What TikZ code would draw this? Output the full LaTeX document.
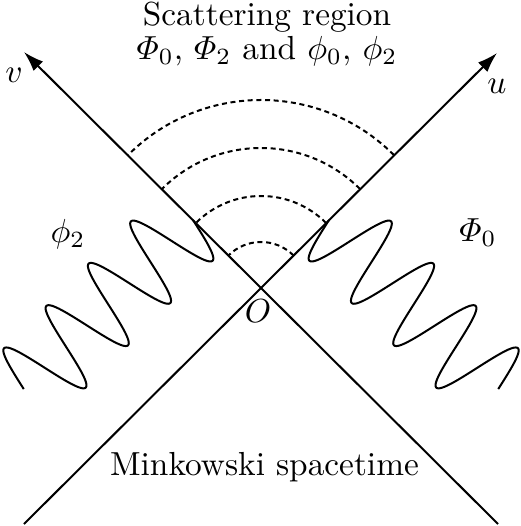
\documentclass[tikz,border=0pt]{standalone}
\usepackage{amsmath}
\usetikzlibrary{arrows.meta}
\begin{document}
\begin{tikzpicture}[x=0.3pt,y=0.3pt,
  axisline/.style={line width=0.6pt,-{Latex[length=6pt,width=4pt]}},
  wave/.style={line width=0.6pt},
  front/.style={line width=0.6pt,dash pattern=on 1.5pt off 1.1pt},
  lab/.style={inner sep=0pt,anchor=base}]
\useasboundingbox (-261,-238) rectangle (259,288);
\coordinate (O) at (0,0);
\coordinate (A) at (-237,-236);
\coordinate (B) at (237,-236);
\coordinate (utip) at (236,235);
\coordinate (vtip) at (-237,236);
\draw[axisline] (A) -- (utip);
\draw[axisline] (B) -- (vtip);
\foreach \r in {46,92,140,188}
  \draw[front] (O) ++(45:\r) arc[start angle=45,end angle=135,radius=\r];
\draw[wave,rotate=45] plot[domain=-239.2:0,samples=241,smooth] (\x,{96.3+42.8*sin(6.0201*\x)});
\draw[wave,rotate=-45] plot[domain=0:239.2,samples=241,smooth] (\x,{96.3-42.8*sin(6.0201*\x)});
\node[lab] (title1) at (6,262) {Scattering region};
\node[lab] (title2) at (6,228) {$\varPhi_0$, $\varPhi_2$ and $\phi_0$, $\phi_2$};
\node[lab] (v) at (-247,205) {$v$};
\node[lab] (u) at (236,194) {$u$};
\node[lab] (Olab) at (-3,-35) {$O$};
\node[lab] (phi2) at (-193,45) {$\phi_2$};
\node[lab] (Phi0) at (217,46) {$\varPhi_0$};
\node[lab] (mink) at (3.5,-187) {Minkowski spacetime};
\end{tikzpicture}
\end{document}
